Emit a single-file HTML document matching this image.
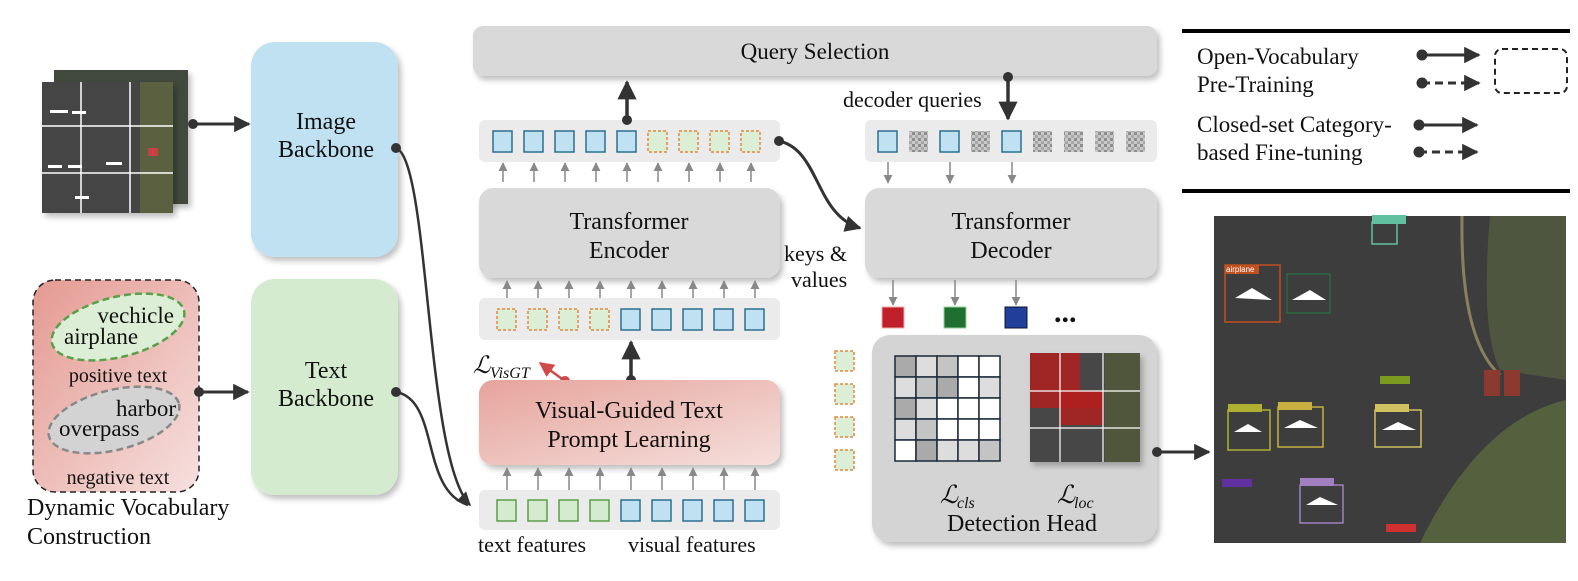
<!DOCTYPE html>
<html><head><meta charset="utf-8"><style>
html,body{margin:0;padding:0;background:#fff;}
svg{display:block;}
text{font-family:"Liberation Serif","DejaVu Serif",serif;fill:#111;}
</style></head><body>
<svg width="1578" height="581" viewBox="0 0 1578 581" xmlns="http://www.w3.org/2000/svg">
<defs>
<marker id="ah" viewBox="0 0 10 10" refX="9" refY="5" markerWidth="6" markerHeight="5.5" orient="auto"><path d="M0,0L10,5L0,10z" fill="#333"/></marker>
<marker id="ahs" viewBox="0 0 10 10" refX="9" refY="5" markerWidth="6" markerHeight="6" orient="auto"><path d="M0,0L10,5L0,10z" fill="#888"/></marker>
<marker id="ahr" viewBox="0 0 10 10" refX="9" refY="5" markerWidth="6" markerHeight="6" orient="auto"><path d="M0,0L10,5L0,10z" fill="#d04848"/></marker>
<linearGradient id="pink" x1="0" y1="0" x2="1" y2="1"><stop offset="0" stop-color="#e49a92"/><stop offset="1" stop-color="#f6e0de"/></linearGradient>
<linearGradient id="pink2" x1="0" y1="0" x2="1" y2="1"><stop offset="0" stop-color="#e6a49c"/><stop offset="1" stop-color="#f5dfdc"/></linearGradient>
<filter id="sh" x="-10%" y="-10%" width="125%" height="130%"><feDropShadow dx="3" dy="4" stdDeviation="3" flood-color="#000" flood-opacity="0.25"/></filter>
<pattern id="noise" width="6" height="6" patternUnits="userSpaceOnUse"><rect width="6" height="6" fill="#c8c8c8"/><rect width="3" height="3" fill="#8d8d8d"/><rect x="3" y="3" width="3" height="3" fill="#a8a8a8"/></pattern>
</defs>

<!-- input image stack -->
<rect x="54" y="70" width="134" height="134" fill="#3f4a3a" filter="url(#sh)"/>
<rect x="42" y="82" width="131" height="131" fill="#454545" filter="url(#sh)"/>
<rect x="140" y="82" width="33" height="131" fill="#5a6040"/>
<g stroke="#fff" stroke-width="1.5"><line x1="42" y1="126" x2="173" y2="126"/><line x1="42" y1="173" x2="173" y2="173"/><line x1="81" y1="82" x2="81" y2="213"/><line x1="130" y1="82" x2="130" y2="213"/></g>
<g fill="#fff"><rect x="50" y="110" width="18" height="3"/><rect x="72" y="111" width="14" height="3"/><rect x="48" y="165" width="14" height="3"/><rect x="68" y="165" width="14" height="3"/><rect x="106" y="162" width="16" height="3"/><rect x="75" y="196" width="14" height="3"/></g>
<rect x="148" y="148" width="10" height="8" fill="#c84040"/>
<circle cx="193" cy="124" r="5" fill="#333"/><line x1="193" y1="124" x2="249" y2="124" stroke="#333" stroke-width="3" marker-end="url(#ah)"/>

<!-- backbones -->
<rect x="251" y="42" width="147" height="215" rx="24" fill="#bfe1f1" filter="url(#sh)"/>
<text x="326" y="129" font-size="24" text-anchor="middle">Image</text>
<text x="326" y="157" font-size="24" text-anchor="middle">Backbone</text>
<rect x="251" y="279" width="147" height="216" rx="24" fill="#d5ebd0" filter="url(#sh)"/>
<text x="326" y="378" font-size="24" text-anchor="middle">Text</text>
<text x="326" y="406" font-size="24" text-anchor="middle">Backbone</text>

<!-- dynamic vocab -->
<rect x="33" y="280" width="166" height="212" rx="22" fill="url(#pink)" stroke="#222" stroke-width="1.5" stroke-dasharray="6,4"/>
<ellipse cx="118" cy="327" rx="68" ry="30" transform="rotate(-14 118 327)" fill="#dcefd6" stroke="#5aa048" stroke-width="2.5" stroke-dasharray="7,4"/>
<text x="174" y="323" font-size="23" text-anchor="end">vechicle</text>
<text x="64" y="344" font-size="23">airplane</text>
<text x="118" y="382" font-size="20" text-anchor="middle">positive text</text>
<ellipse cx="114" cy="420" rx="67" ry="30" transform="rotate(-14 114 420)" fill="#d3d3d3" stroke="#888" stroke-width="2.5" stroke-dasharray="7,4"/>
<text x="176" y="416" font-size="23" text-anchor="end">harbor</text>
<text x="59" y="436" font-size="23">overpass</text>
<text x="118" y="484" font-size="20" text-anchor="middle">negative text</text>
<circle cx="199" cy="392" r="5" fill="#333"/><line x1="199" y1="392" x2="248" y2="392" stroke="#333" stroke-width="3" marker-end="url(#ah)"/>
<text x="27" y="515" font-size="24">Dynamic Vocabulary</text>
<text x="27" y="544" font-size="24">Construction</text>

<!-- curves -->
<circle cx="396" cy="148" r="5" fill="#333"/>
<path d="M396,148 C430,160 425,460 470,505" fill="none" stroke="#333" stroke-width="2.5" marker-end="url(#ah)"/>
<circle cx="396" cy="392" r="5" fill="#333"/>
<path d="M396,392 C440,400 420,490 468,505" fill="none" stroke="#333" stroke-width="2.5"/>

<!-- query selection -->
<rect x="473" y="26" width="684" height="50" rx="10" fill="#d9d9d9" filter="url(#sh)"/>
<text x="815" y="59" font-size="23" text-anchor="middle">Query Selection</text>

<!-- top encoder row -->
<rect x="479" y="120" width="301" height="42" rx="6" fill="#ebebeb"/>
<g stroke="#2c6f90" stroke-width="1.5" fill="#bfe1f1">
<rect x="493" y="131" width="19" height="21"/><rect x="524" y="131" width="19" height="21"/><rect x="555" y="131" width="19" height="21"/><rect x="586" y="131" width="19" height="21"/><rect x="617" y="131" width="19" height="21"/></g>
<g stroke="#e08a40" stroke-width="1.5" fill="#dcefd6" stroke-dasharray="3,2">
<rect x="648" y="131" width="19" height="21"/><rect x="679" y="131" width="19" height="21"/><rect x="710" y="131" width="19" height="21"/><rect x="741" y="131" width="19" height="21"/></g>
<circle cx="627" cy="120" r="5" fill="#333"/><line x1="627" y1="120" x2="627" y2="82" stroke="#333" stroke-width="3.5" marker-end="url(#ah)"/>
<g stroke="#888" stroke-width="1.5" marker-end="url(#ahs)">
<line x1="503" y1="182" x2="503" y2="163"/><line x1="534" y1="182" x2="534" y2="163"/><line x1="565" y1="182" x2="565" y2="163"/><line x1="596" y1="182" x2="596" y2="163"/><line x1="627" y1="182" x2="627" y2="163"/><line x1="658" y1="182" x2="658" y2="163"/><line x1="689" y1="182" x2="689" y2="163"/><line x1="720" y1="182" x2="720" y2="163"/><line x1="751" y1="182" x2="751" y2="163"/></g>

<!-- encoder -->
<rect x="479" y="188" width="301" height="90" rx="14" fill="#d9d9d9" filter="url(#sh)"/>
<text x="629" y="229" font-size="24" text-anchor="middle">Transformer</text>
<text x="629" y="258" font-size="24" text-anchor="middle">Encoder</text>

<!-- mid row -->
<g stroke="#888" stroke-width="1.5" marker-end="url(#ahs)">
<line x1="507" y1="308" x2="507" y2="281"/><line x1="538" y1="308" x2="538" y2="281"/><line x1="569" y1="308" x2="569" y2="281"/><line x1="600" y1="308" x2="600" y2="281"/><line x1="631" y1="308" x2="631" y2="281"/><line x1="662" y1="308" x2="662" y2="281"/><line x1="693" y1="308" x2="693" y2="281"/><line x1="724" y1="308" x2="724" y2="281"/><line x1="755" y1="308" x2="755" y2="281"/></g>
<rect x="479" y="298" width="301" height="42" rx="6" fill="#ebebeb"/>
<g stroke="#e08a40" stroke-width="1.5" fill="#dcefd6" stroke-dasharray="3,2">
<rect x="497" y="309" width="19" height="21"/><rect x="528" y="309" width="19" height="21"/><rect x="559" y="309" width="19" height="21"/><rect x="590" y="309" width="19" height="21"/></g>
<g stroke="#2c6f90" stroke-width="1.5" fill="#bfe1f1">
<rect x="621" y="309" width="19" height="21"/><rect x="652" y="309" width="19" height="21"/><rect x="683" y="309" width="19" height="21"/><rect x="714" y="309" width="19" height="21"/><rect x="745" y="309" width="19" height="21"/></g>
<circle cx="631" cy="380" r="5" fill="#333"/><line x1="631" y1="380" x2="631" y2="342" stroke="#333" stroke-width="3.5" marker-end="url(#ah)"/>

<!-- L_VisGT -->
<text x="473" y="373" font-size="24" font-style="italic">ℒ</text>
<text x="490" y="378" font-size="16" font-style="italic">VisGT</text>
<circle cx="565" cy="381" r="5" fill="#d04848"/><line x1="565" y1="381" x2="540" y2="363" stroke="#d04848" stroke-width="2.5" marker-end="url(#ahr)"/>

<!-- VGTPL -->
<rect x="479" y="380" width="301" height="85" rx="14" fill="url(#pink2)" filter="url(#sh)"/>
<text x="629" y="418" font-size="24" text-anchor="middle">Visual-Guided Text</text>
<text x="629" y="447" font-size="24" text-anchor="middle">Prompt Learning</text>

<!-- bottom row -->
<g stroke="#888" stroke-width="1.5" marker-end="url(#ahs)">
<line x1="507" y1="498" x2="507" y2="468"/><line x1="538" y1="498" x2="538" y2="468"/><line x1="569" y1="498" x2="569" y2="468"/><line x1="600" y1="498" x2="600" y2="468"/><line x1="631" y1="498" x2="631" y2="468"/><line x1="662" y1="498" x2="662" y2="468"/><line x1="693" y1="498" x2="693" y2="468"/><line x1="724" y1="498" x2="724" y2="468"/><line x1="755" y1="498" x2="755" y2="468"/></g>
<rect x="479" y="490" width="301" height="40" rx="6" fill="#ebebeb"/>
<g stroke="#5aa048" stroke-width="1.5" fill="#d5ebd0">
<rect x="497" y="500" width="19" height="21"/><rect x="528" y="500" width="19" height="21"/><rect x="559" y="500" width="19" height="21"/><rect x="590" y="500" width="19" height="21"/></g>
<g stroke="#2c6f90" stroke-width="1.5" fill="#bfe1f1">
<rect x="621" y="500" width="19" height="21"/><rect x="652" y="500" width="19" height="21"/><rect x="683" y="500" width="19" height="21"/><rect x="714" y="500" width="19" height="21"/><rect x="745" y="500" width="19" height="21"/></g>
<text x="478" y="552" font-size="22">text features</text>
<text x="628" y="552" font-size="22">visual features</text>

<!-- keys & values -->
<circle cx="779" cy="141" r="5" fill="#333"/>
<path d="M779,141 C820,150 815,215 860,228" fill="none" stroke="#333" stroke-width="3" marker-end="url(#ah)"/>
<text x="784" y="261" font-size="22">keys &amp;</text>
<text x="791" y="287" font-size="22">values</text>

<!-- decoder queries -->
<text x="843" y="107" font-size="22">decoder queries</text>
<circle cx="1008" cy="77" r="5" fill="#333"/><line x1="1008" y1="77" x2="1008" y2="119" stroke="#333" stroke-width="3.5" marker-end="url(#ah)"/>
<rect x="865" y="120" width="292" height="42" rx="6" fill="#ebebeb"/>
<g stroke="#2c6f90" stroke-width="1.5" fill="#bfe1f1">
<rect x="878" y="131" width="19" height="21"/><rect x="940" y="131" width="19" height="21"/><rect x="1002" y="131" width="19" height="21"/></g>
<g fill="url(#noise)">
<rect x="909" y="131" width="19" height="21"/><rect x="971" y="131" width="19" height="21"/><rect x="1033" y="131" width="19" height="21"/><rect x="1064" y="131" width="19" height="21"/><rect x="1095" y="131" width="19" height="21"/><rect x="1126" y="131" width="19" height="21"/></g>
<g stroke="#888" stroke-width="1.5" marker-end="url(#ahs)">
<line x1="888" y1="162" x2="888" y2="183"/><line x1="950" y1="162" x2="950" y2="183"/><line x1="1012" y1="162" x2="1012" y2="183"/></g>

<!-- decoder -->
<rect x="865" y="188" width="292" height="90" rx="14" fill="#d9d9d9" filter="url(#sh)"/>
<text x="1011" y="229" font-size="24" text-anchor="middle">Transformer</text>
<text x="1011" y="258" font-size="24" text-anchor="middle">Decoder</text>
<g stroke="#888" stroke-width="1.5" marker-end="url(#ahs)">
<line x1="893" y1="280" x2="893" y2="305"/><line x1="955" y1="280" x2="955" y2="305"/><line x1="1016" y1="280" x2="1016" y2="305"/></g>
<rect x="882" y="307" width="22" height="21" fill="#c0202a" stroke="#eaa" stroke-width="1"/>
<rect x="944" y="307" width="22" height="21" fill="#1f7030" stroke="#9c9" stroke-width="1"/>
<rect x="1005" y="307" width="22" height="21" fill="#1f3f9a" stroke="#113" stroke-width="1"/>
<text x="1054" y="322" font-size="30" font-weight="bold">...</text>

<!-- small dashed squares -->
<g stroke="#e08a40" stroke-width="1.5" fill="#dcefd6" stroke-dasharray="3,2">
<rect x="835" y="351" width="19" height="20"/><rect x="835" y="384" width="19" height="20"/><rect x="835" y="417" width="19" height="20"/><rect x="835" y="450" width="19" height="20"/></g>

<!-- detection head -->
<rect x="872" y="335" width="285" height="207" rx="18" fill="#d4d4d4" filter="url(#sh)"/>
<g stroke="#1a2a3a" stroke-width="1.5">
<rect x="895" y="356" width="21" height="21" fill="#aaa"/><rect x="916" y="356" width="21" height="21" fill="#ddd"/><rect x="937" y="356" width="21" height="21" fill="#c4c4c4"/><rect x="958" y="356" width="21" height="21" fill="#fff"/><rect x="979" y="356" width="21" height="21" fill="#fff"/>
<rect x="895" y="377" width="21" height="21" fill="#ddd"/><rect x="916" y="377" width="21" height="21" fill="#c4c4c4"/><rect x="937" y="377" width="21" height="21" fill="#aaa"/><rect x="958" y="377" width="21" height="21" fill="#fff"/><rect x="979" y="377" width="21" height="21" fill="#ddd"/>
<rect x="895" y="398" width="21" height="21" fill="#aaa"/><rect x="916" y="398" width="21" height="21" fill="#ddd"/><rect x="937" y="398" width="21" height="21" fill="#fff"/><rect x="958" y="398" width="21" height="21" fill="#fff"/><rect x="979" y="398" width="21" height="21" fill="#fff"/>
<rect x="895" y="419" width="21" height="21" fill="#ddd"/><rect x="916" y="419" width="21" height="21" fill="#c4c4c4"/><rect x="937" y="419" width="21" height="21" fill="#fff"/><rect x="958" y="419" width="21" height="21" fill="#fff"/><rect x="979" y="419" width="21" height="21" fill="#fff"/>
<rect x="895" y="440" width="21" height="21" fill="#fff"/><rect x="916" y="440" width="21" height="21" fill="#aaa"/><rect x="937" y="440" width="21" height="21" fill="#ddd"/><rect x="958" y="440" width="21" height="21" fill="#ddd"/><rect x="979" y="440" width="21" height="21" fill="#c4c4c4"/></g>
<rect x="1030" y="353" width="110" height="109" fill="#474747" filter="url(#sh)"/>
<rect x="1105" y="353" width="35" height="109" fill="#50563c"/>
<rect x="1030" y="353" width="50" height="38" fill="#b02020" opacity="0.85"/>
<rect x="1030" y="391" width="73" height="17" fill="#b02020" opacity="0.85"/>
<rect x="1060" y="391" width="43" height="34" fill="#b02020" opacity="0.85"/>
<g stroke="#fff" stroke-width="1.2"><line x1="1030" y1="391" x2="1140" y2="391"/><line x1="1030" y1="428" x2="1140" y2="428"/><line x1="1060" y1="353" x2="1060" y2="462"/><line x1="1103" y1="353" x2="1103" y2="462"/></g>
<text x="940" y="503" font-size="25" font-style="italic">ℒ</text><text x="957" y="508" font-size="16" font-style="italic">cls</text>
<text x="1057" y="503" font-size="25" font-style="italic">ℒ</text><text x="1074" y="508" font-size="16" font-style="italic">loc</text>
<text x="1022" y="531" font-size="24" text-anchor="middle">Detection Head</text>
<circle cx="1157" cy="452" r="5" fill="#333"/><line x1="1157" y1="452" x2="1209" y2="452" stroke="#333" stroke-width="3" marker-end="url(#ah)"/>

<!-- legend -->
<rect x="1182" y="29" width="388" height="4" fill="#000"/>
<rect x="1182" y="189" width="388" height="4" fill="#000"/>
<text x="1197" y="64" font-size="23">Open-Vocabulary</text>
<text x="1197" y="92" font-size="23">Pre-Training</text>
<text x="1197" y="132" font-size="23">Closed-set Category-</text>
<text x="1197" y="160" font-size="23">based Fine-tuning</text>
<g fill="#333">
<circle cx="1422" cy="55" r="5.5"/><line x1="1422" y1="55" x2="1479" y2="55" stroke="#333" stroke-width="3" marker-end="url(#ah)"/>
<circle cx="1422" cy="83" r="5.5"/><line x1="1422" y1="83" x2="1479" y2="83" stroke="#333" stroke-width="3" stroke-dasharray="8,5" marker-end="url(#ah)"/>
<circle cx="1419" cy="125" r="5.5"/><line x1="1419" y1="125" x2="1477" y2="125" stroke="#333" stroke-width="3" marker-end="url(#ah)"/>
<circle cx="1419" cy="152" r="5.5"/><line x1="1419" y1="152" x2="1477" y2="152" stroke="#333" stroke-width="3" stroke-dasharray="8,5" marker-end="url(#ah)"/></g>
<rect x="1495" y="49" width="72" height="44" rx="7" fill="none" stroke="#222" stroke-width="2" stroke-dasharray="6,4"/>

<!-- result image -->
<rect x="1214" y="216" width="352" height="327" fill="#3d3d3d"/>
<path d="M1490,216 L1566,216 L1566,380 L1500,370 Q1480,330 1490,216z" fill="#4e5640"/>
<path d="M1420,543 Q1480,420 1566,400 L1566,543z" fill="#55603f"/>
<path d="M1462,216 Q1460,340 1500,375" fill="none" stroke="#8a8060" stroke-width="3"/>
<rect x="1484" y="370" width="16" height="26" fill="#8c3a30"/><rect x="1504" y="370" width="16" height="26" fill="#8c3a30"/>
<g fill="none" stroke-width="1.5">
<rect x="1225" y="265" width="55" height="57" stroke="#c05020"/><rect x="1287" y="274" width="43" height="39" stroke="#2a6a40"/>
<rect x="1372" y="222" width="25" height="22" stroke="#60c0a0"/>
<rect x="1228" y="410" width="42" height="40" stroke="#b0b030"/><rect x="1278" y="407" width="45" height="40" stroke="#c8b040"/>
<rect x="1375" y="410" width="46" height="37" stroke="#d0c060"/><rect x="1300" y="485" width="43" height="38" stroke="#a080c0"/></g>
<g fill="#fff"><path d="M1235,298 L1272,300 L1252,288z"/><path d="M1292,300 L1326,300 L1310,290z"/><path d="M1234,432 L1262,432 L1248,424z"/><path d="M1284,428 L1318,428 L1300,420z"/><path d="M1382,430 L1416,430 L1398,422z"/><path d="M1306,505 L1338,505 L1320,497z"/></g>
<g>
<rect x="1225" y="265" width="34" height="9" fill="#c05020"/><text x="1226" y="272" font-size="8" style="fill:#fff;font-family:'Liberation Sans',sans-serif">airplane</text>
<rect x="1372" y="215" width="34" height="9" fill="#60c0a0"/>
<rect x="1380" y="376" width="30" height="8" fill="#7a9a20"/>
<rect x="1228" y="404" width="34" height="8" fill="#b0b030"/><rect x="1278" y="402" width="34" height="8" fill="#c8b040"/><rect x="1375" y="404" width="34" height="8" fill="#d0c060"/>
<rect x="1300" y="478" width="34" height="8" fill="#a080c0"/><rect x="1222" y="479" width="30" height="8" fill="#6030a0"/><rect x="1386" y="524" width="30" height="8" fill="#d03030"/></g>
</svg>
</body></html>
